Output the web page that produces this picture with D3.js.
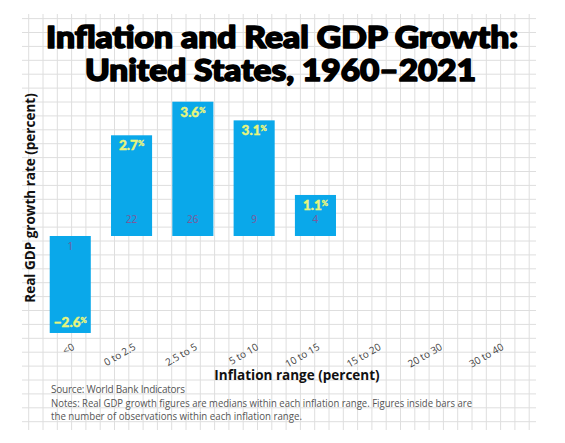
<!DOCTYPE html>
<html>
<head>
<meta charset="utf-8">
<script src="https://cdn.jsdelivr.net/npm/d3@7"></script>
<style>
  body { margin: 0; background: #fff; }
  svg { display: block; }
</style>
</head>
<body>
<main></main>
<script>
// data
const categories = ['<0', '0 to 2.5', '2.5 to 5', '5 to 10', '10 to 15', '15 to 20', '20 to 30', '30 to 40']
const growth = [-2.6, 2.7, 3.6, 3.1, 1.1, null, null, null]
const observations = [1, 22, 26, 9, 4, null, null, null]

// sizes
const size = { width: 565, height: 443 }
const barColor = '#0aa8ea'
const valueColor = '#e8f57c'
const countColor = '#7a5b9c'

const svg = d3.select('main')
  .append('svg')
  .attr('width', size.width)
  .attr('height', size.height)

// graph paper background
const gridX = d3.scaleLinear().domain([0, 35]).range([28.7, 529.2])
const gridY = d3.scaleLinear().domain([0, 29]).range([18.6, 421.7])
const grid = svg.append('g').attr('stroke', '#dedede').attr('stroke-width', 1)
grid.selectAll('line.h')
  .data(d3.range(0, 30))
  .enter()
  .append('line')
  .attr('class', 'h')
  .attr('x1', 22)
  .attr('x2', 536)
  .attr('y1', d => gridY(d))
  .attr('y2', d => gridY(d))
grid.selectAll('line.v')
  .data(d3.range(0, 36))
  .enter()
  .append('line')
  .attr('class', 'v')
  .attr('y1', 14)
  .attr('y2', 430)
  .attr('x1', d => gridX(d))
  .attr('x2', d => gridX(d))

// scales
const xScale = d3.scaleBand()
  .domain(categories)
  .range([39.6, 530])
  .paddingInner(0.33)
  .paddingOuter(0.165)

const yScale = d3.scaleLinear()
  .domain([-3, 4])
  .range([347.9, 86.8])

const rows = categories.map((c, i) => ({ cat: c, value: growth[i], n: observations[i] }))
  .filter(d => d.value !== null)

// bars
svg.append('g')
  .selectAll('rect')
  .data(rows)
  .enter()
  .append('rect')
  .attr('x', d => xScale(d.cat))
  .attr('width', xScale.bandwidth())
  .attr('y', d => yScale(Math.max(0, d.value)))
  .attr('height', d => Math.abs(yScale(d.value) - yScale(0)))
  .attr('fill', barColor)

// value labels
const valueLabels = svg.append('g')
  .attr('font-family', 'Lato, Roboto, sans-serif')
  .attr('font-weight', 900)
  .attr('fill', valueColor)
  .attr('stroke', valueColor)
  .attr('stroke-width', 0.4)
  .attr('text-anchor', 'middle')
const vl = valueLabels.selectAll('text')
  .data(rows)
  .enter()
  .append('text')
  .attr('x', d => xScale(d.cat) + xScale.bandwidth() / 2)
  .attr('y', d => d.value >= 0 ? yScale(d.value) + 15 : yScale(d.value) - 6)
  .attr('font-size', 13.5)
vl.append('tspan').text(d => d3.format('.1f')(d.value))
vl.append('tspan')
  .attr('font-size', 7.5)
  .attr('dy', -4)
  .text('%')

// observation counts
svg.append('g')
  .attr('font-family', '"Noto Sans", sans-serif')
  .attr('font-size', 10)
  .attr('fill', countColor)
  .attr('text-anchor', 'middle')
  .selectAll('text')
  .data(rows)
  .enter()
  .append('text')
  .attr('x', d => xScale(d.cat) + xScale.bandwidth() / 2)
  .attr('y', d => d.value >= 0 ? yScale(0) - 13 : yScale(0) + 14)
  .text(d => d.n)

// x axis labels
const xAxis = d3.axisBottom(xScale).tickSize(0).tickPadding(0)
const xg = svg.append('g')
  .attr('transform', 'translate(5, 349)')
  .call(xAxis)
xg.select('.domain').remove()
xg.selectAll('text')
  .attr('font-family', '"Open Sans", sans-serif')
  .attr('font-size', 10)
  .attr('fill', '#444')
  .attr('text-anchor', 'end')
  .attr('dy', 0)
  .attr('y', 0)
  .attr('transform', 'rotate(-30)')

// axis titles
svg.append('text')
  .attr('x', 297)
  .attr('y', 380)
  .attr('text-anchor', 'middle')
  .attr('font-family', '"Open Sans", sans-serif')
  .attr('font-weight', 700)
  .attr('font-size', 13.5)
  .attr('fill', '#111')
  .text('Inflation range (percent)')

svg.append('text')
  .attr('transform', 'translate(35, 198) rotate(-90)')
  .attr('text-anchor', 'middle')
  .attr('font-family', '"Open Sans", sans-serif')
  .attr('font-weight', 700)
  .attr('font-size', 13.5)
  .attr('fill', '#111')
  .text('Real GDP growth rate (percent)')

// title
const title = svg.append('g')
  .attr('font-family', 'Lato, Roboto, sans-serif')
  .attr('font-weight', 900)
  .attr('font-size', 30)
  .attr('fill', '#000')
  .attr('stroke', '#000')
  .attr('stroke-width', 1.6)
  .attr('stroke-linejoin', 'round')
title.append('text')
  .attr('x', 46)
  .attr('y', 48)
  .attr('textLength', 472)
  .attr('lengthAdjust', 'spacingAndGlyphs')
  .text('Inflation and Real GDP Growth:')
title.append('text')
  .attr('x', 85)
  .attr('y', 81)
  .attr('textLength', 391)
  .attr('lengthAdjust', 'spacingAndGlyphs')
  .text('United States, 1960–2021')

// notes
const notes = svg.append('g')
  .attr('font-family', '"Open Sans", sans-serif')
  .attr('font-size', 10)
  .attr('fill', '#555')
notes.append('text').attr('x', 51).attr('y', 393)
  .attr('textLength', 134)
  .text('Source: World Bank Indicators')
notes.append('text').attr('x', 51).attr('y', 407)
  .attr('textLength', 421)
  .attr('lengthAdjust', 'spacingAndGlyphs')
  .text('Notes: Real GDP growth figures are medians within each inflation range. Figures inside bars are')
notes.append('text').attr('x', 51).attr('y', 420)
  .attr('textLength', 251)
  .attr('lengthAdjust', 'spacingAndGlyphs')
  .text('the number of observations within each inflation range.')
</script>
</body>
</html>
